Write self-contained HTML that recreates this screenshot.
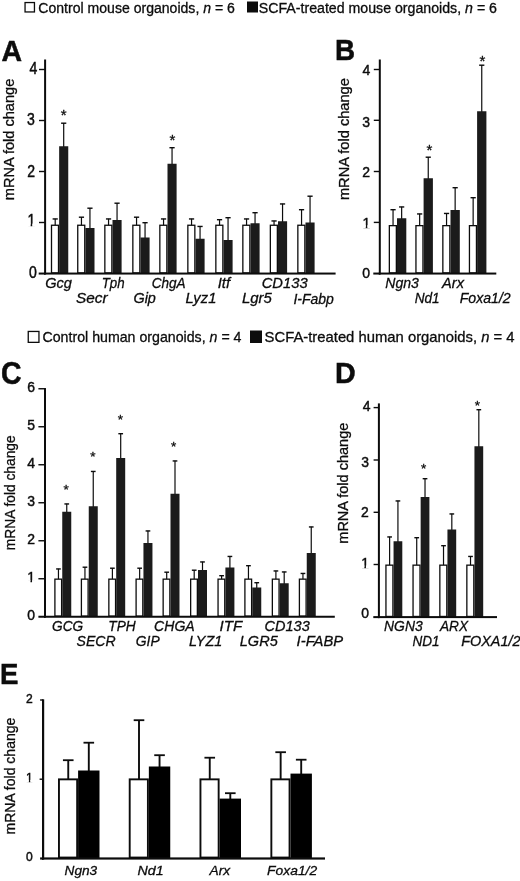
<!DOCTYPE html>
<html lang="en">
<head>
<meta charset="utf-8">
<title>SCFA organoid mRNA fold change</title>
<style>
html,body{margin:0;padding:0;background:#fff;}
body{width:520px;height:881px;overflow:hidden;}
svg{display:block;}
svg text{font-family:"Liberation Sans",sans-serif;fill:#0c0c0c;stroke:#0c0c0c;stroke-width:0.3px;}
</style>
</head>
<body>
<svg width="520" height="881" viewBox="0 0 520 881">
<rect x="0" y="0" width="520" height="881" fill="#fff"/>
<rect x="25.05" y="2.55" width="9.4" height="9.4" fill="#fff" stroke="#0c0c0c" stroke-width="1.3"/>
<text x="38.3" y="12.5" style="font-size:14px" textLength="196.6" lengthAdjust="spacingAndGlyphs">Control mouse organoids, <tspan style="font-style:italic">n</tspan> = 6</text>
<rect x="247" y="1.5" width="11" height="11" fill="#0c0c0c"/>
<text x="258.8" y="12.5" style="font-size:14px" textLength="238.2" lengthAdjust="spacingAndGlyphs">SCFA-treated mouse organoids, <tspan style="font-style:italic">n</tspan> = 6</text>
<rect x="28.25" y="331.45" width="10.7" height="10.9" fill="#fff" stroke="#0c0c0c" stroke-width="1.3"/>
<text x="42.5" y="342.3" style="font-size:14.8px" textLength="199" lengthAdjust="spacingAndGlyphs">Control human organoids, <tspan style="font-style:italic">n</tspan> = 4</text>
<rect x="250" y="330.5" width="12" height="12.5" fill="#0c0c0c"/>
<text x="264.6" y="342.3" style="font-size:14.8px" textLength="250" lengthAdjust="spacingAndGlyphs">SCFA-treated human organoids, <tspan style="font-style:italic">n</tspan> = 4</text>
<text transform="translate(1.5,60.8) scale(0.964,1)" x="0" y="0" style="font-size:29.5px;font-weight:bold;stroke-width:0.5px">A</text>
<text transform="translate(335.05,60.4) scale(0.934,1)" x="0" y="0" style="font-size:29.8px;font-weight:bold;stroke-width:0.5px">B</text>
<text transform="translate(0.9,384.2) scale(0.907,1)" x="0" y="0" style="font-size:31.4px;font-weight:bold;stroke-width:0.5px">C</text>
<text transform="translate(335.1,382.85) scale(0.942,1)" x="0" y="0" style="font-size:30.4px;font-weight:bold;stroke-width:0.5px">D</text>
<text transform="translate(0.05,683.7) scale(0.915,1)" x="0" y="0" style="font-size:30.2px;font-weight:bold;stroke-width:0.5px">E</text>
<line x1="55.2" y1="218.75" x2="55.2" y2="225.6" stroke="#0c0c0c" stroke-width="1.2"/>
<rect x="52.6" y="218.25" width="5.2" height="1.4" fill="#0c0c0c"/>
<line x1="63.7" y1="123" x2="63.7" y2="147.25" stroke="#0c0c0c" stroke-width="1.2"/>
<rect x="61.1" y="122.5" width="5.2" height="1.4" fill="#0c0c0c"/>
<rect x="51.5" y="225.25" width="7" height="47.65" fill="#fff" stroke="#0c0c0c" stroke-width="1.3"/>
<rect x="59.15" y="146.25" width="9.1" height="127.3" fill="#1b1b1b"/>
<line x1="81.45" y1="217" x2="81.45" y2="225.6" stroke="#0c0c0c" stroke-width="1.2"/>
<rect x="78.85" y="216.5" width="5.2" height="1.4" fill="#0c0c0c"/>
<line x1="89.95" y1="208" x2="89.95" y2="229" stroke="#0c0c0c" stroke-width="1.2"/>
<rect x="87.35" y="207.5" width="5.2" height="1.4" fill="#0c0c0c"/>
<rect x="77.75" y="225.25" width="7" height="47.65" fill="#fff" stroke="#0c0c0c" stroke-width="1.3"/>
<rect x="85.4" y="228" width="9.1" height="45.55" fill="#1b1b1b"/>
<line x1="108.55" y1="218.75" x2="108.55" y2="225.6" stroke="#0c0c0c" stroke-width="1.2"/>
<rect x="105.95" y="218.25" width="5.2" height="1.4" fill="#0c0c0c"/>
<line x1="117.05" y1="203" x2="117.05" y2="221" stroke="#0c0c0c" stroke-width="1.2"/>
<rect x="114.45" y="202.5" width="5.2" height="1.4" fill="#0c0c0c"/>
<rect x="104.85" y="225.25" width="7" height="47.65" fill="#fff" stroke="#0c0c0c" stroke-width="1.3"/>
<rect x="112.5" y="220" width="9.1" height="53.55" fill="#1b1b1b"/>
<line x1="136.55" y1="217" x2="136.55" y2="225.6" stroke="#0c0c0c" stroke-width="1.2"/>
<rect x="133.95" y="216.5" width="5.2" height="1.4" fill="#0c0c0c"/>
<line x1="145.05" y1="222.5" x2="145.05" y2="238.5" stroke="#0c0c0c" stroke-width="1.2"/>
<rect x="142.45" y="222" width="5.2" height="1.4" fill="#0c0c0c"/>
<rect x="132.85" y="225.25" width="7" height="47.65" fill="#fff" stroke="#0c0c0c" stroke-width="1.3"/>
<rect x="140.5" y="237.5" width="9.1" height="36.05" fill="#1b1b1b"/>
<line x1="163.55" y1="218.75" x2="163.55" y2="225.6" stroke="#0c0c0c" stroke-width="1.2"/>
<rect x="160.95" y="218.25" width="5.2" height="1.4" fill="#0c0c0c"/>
<line x1="172.05" y1="147.5" x2="172.05" y2="164.75" stroke="#0c0c0c" stroke-width="1.2"/>
<rect x="169.45" y="147" width="5.2" height="1.4" fill="#0c0c0c"/>
<rect x="159.85" y="225.25" width="7" height="47.65" fill="#fff" stroke="#0c0c0c" stroke-width="1.3"/>
<rect x="167.5" y="163.75" width="9.1" height="109.8" fill="#1b1b1b"/>
<line x1="191.55" y1="218.75" x2="191.55" y2="225.6" stroke="#0c0c0c" stroke-width="1.2"/>
<rect x="188.95" y="218.25" width="5.2" height="1.4" fill="#0c0c0c"/>
<line x1="200.05" y1="226.25" x2="200.05" y2="239.75" stroke="#0c0c0c" stroke-width="1.2"/>
<rect x="197.45" y="225.75" width="5.2" height="1.4" fill="#0c0c0c"/>
<rect x="187.85" y="225.25" width="7" height="47.65" fill="#fff" stroke="#0c0c0c" stroke-width="1.3"/>
<rect x="195.5" y="238.75" width="9.1" height="34.8" fill="#1b1b1b"/>
<line x1="219.55" y1="219.5" x2="219.55" y2="225.6" stroke="#0c0c0c" stroke-width="1.2"/>
<rect x="216.95" y="219" width="5.2" height="1.4" fill="#0c0c0c"/>
<line x1="228.05" y1="217.5" x2="228.05" y2="241" stroke="#0c0c0c" stroke-width="1.2"/>
<rect x="225.45" y="217" width="5.2" height="1.4" fill="#0c0c0c"/>
<rect x="215.85" y="225.25" width="7" height="47.65" fill="#fff" stroke="#0c0c0c" stroke-width="1.3"/>
<rect x="223.5" y="240" width="9.1" height="33.55" fill="#1b1b1b"/>
<line x1="246.55" y1="218.75" x2="246.55" y2="225.6" stroke="#0c0c0c" stroke-width="1.2"/>
<rect x="243.95" y="218.25" width="5.2" height="1.4" fill="#0c0c0c"/>
<line x1="255.05" y1="212.5" x2="255.05" y2="224.25" stroke="#0c0c0c" stroke-width="1.2"/>
<rect x="252.45" y="212" width="5.2" height="1.4" fill="#0c0c0c"/>
<rect x="242.85" y="225.25" width="7" height="47.65" fill="#fff" stroke="#0c0c0c" stroke-width="1.3"/>
<rect x="250.5" y="223.25" width="9.1" height="50.3" fill="#1b1b1b"/>
<line x1="274.05" y1="220.75" x2="274.05" y2="225.6" stroke="#0c0c0c" stroke-width="1.2"/>
<rect x="271.45" y="220.25" width="5.2" height="1.4" fill="#0c0c0c"/>
<line x1="282.55" y1="203.75" x2="282.55" y2="222.25" stroke="#0c0c0c" stroke-width="1.2"/>
<rect x="279.95" y="203.25" width="5.2" height="1.4" fill="#0c0c0c"/>
<rect x="270.35" y="225.25" width="7" height="47.65" fill="#fff" stroke="#0c0c0c" stroke-width="1.3"/>
<rect x="278" y="221.25" width="9.1" height="52.3" fill="#1b1b1b"/>
<line x1="301.55" y1="209.5" x2="301.55" y2="225.6" stroke="#0c0c0c" stroke-width="1.2"/>
<rect x="298.95" y="209" width="5.2" height="1.4" fill="#0c0c0c"/>
<line x1="310.05" y1="196" x2="310.05" y2="223.5" stroke="#0c0c0c" stroke-width="1.2"/>
<rect x="307.45" y="195.5" width="5.2" height="1.4" fill="#0c0c0c"/>
<rect x="297.85" y="225.25" width="7" height="47.65" fill="#fff" stroke="#0c0c0c" stroke-width="1.3"/>
<rect x="305.5" y="222.5" width="9.1" height="51.05" fill="#1b1b1b"/>
<rect x="44.1" y="59.5" width="2" height="215.05" fill="#0c0c0c"/>
<rect x="44.1" y="272.55" width="291.5" height="2" fill="#0c0c0c"/>
<rect x="39" y="68.8" width="6.1" height="1.4" fill="#0c0c0c"/>
<text transform="translate(37.3,73.61) scale(0.9,1)" text-anchor="end" style="font-size:15.6px;stroke-width:0.45px;">4</text>
<rect x="39" y="119.8" width="6.1" height="1.4" fill="#0c0c0c"/>
<text transform="translate(34.9,124.71) scale(0.9,1)" text-anchor="end" style="font-size:15.6px;stroke-width:0.45px;">3</text>
<rect x="39" y="170.8" width="6.1" height="1.4" fill="#0c0c0c"/>
<text transform="translate(35,176.71) scale(0.9,1)" text-anchor="end" style="font-size:15.6px;stroke-width:0.45px;">2</text>
<rect x="39" y="221.8" width="6.1" height="1.4" fill="#0c0c0c"/>
<text transform="translate(35.2,226.01) scale(0.9,1)" text-anchor="end" style="font-size:15.6px;stroke-width:0.45px;">1</text>
<rect x="26.99" y="223.67" width="3.65" height="3.14" fill="#fff"/>
<rect x="32.22" y="223.67" width="3.65" height="3.14" fill="#fff"/>
<rect x="38.7" y="272.55" width="6.4" height="2" fill="#0c0c0c"/>
<text transform="translate(36.9,278.06) scale(0.9,1)" text-anchor="end" style="font-size:15.6px;stroke-width:0.45px;">0</text>
<text transform="translate(14.2,139.5) rotate(-90)" text-anchor="middle" style="font-size:15px" textLength="121.5" lengthAdjust="spacingAndGlyphs">mRNA fold change</text>
<text x="63.75" y="119.88" text-anchor="middle" style="font-size:15px;">*</text>
<text x="172.3" y="145.38" text-anchor="middle" style="font-size:15px;">*</text>
<text x="58.52" y="287.7" text-anchor="middle" style="font-size:15px;font-style:italic;" textLength="26.65" lengthAdjust="spacingAndGlyphs">Gcg</text>
<text x="91.78" y="302.6" text-anchor="middle" style="font-size:15px;font-style:italic;" textLength="31.65" lengthAdjust="spacingAndGlyphs">Secr</text>
<text x="113.15" y="287.7" text-anchor="middle" style="font-size:15px;font-style:italic;" textLength="22.9" lengthAdjust="spacingAndGlyphs">Tph</text>
<text x="144.65" y="302.86" text-anchor="middle" style="font-size:15px;font-style:italic;" textLength="22.4" lengthAdjust="spacingAndGlyphs">Gip</text>
<text x="168.65" y="287.7" text-anchor="middle" style="font-size:15px;font-style:italic;" textLength="33.9" lengthAdjust="spacingAndGlyphs">ChgA</text>
<text x="200.9" y="303.1" text-anchor="middle" style="font-size:15px;font-style:italic;" textLength="30.9" lengthAdjust="spacingAndGlyphs">Lyz1</text>
<text x="223.9" y="287.7" text-anchor="middle" style="font-size:15px;font-style:italic;" textLength="12.4" lengthAdjust="spacingAndGlyphs">Itf</text>
<text x="256.95" y="303.36" text-anchor="middle" style="font-size:15px;font-style:italic;" textLength="29.9" lengthAdjust="spacingAndGlyphs">Lgr5</text>
<text x="284.65" y="287.7" text-anchor="middle" style="font-size:15px;font-style:italic;" textLength="45.9" lengthAdjust="spacingAndGlyphs">CD133</text>
<text x="313.65" y="303.6" text-anchor="middle" style="font-size:15px;font-style:italic;" textLength="40.4" lengthAdjust="spacingAndGlyphs">I-Fabp</text>
<line x1="393.05" y1="209.5" x2="393.05" y2="226" stroke="#0c0c0c" stroke-width="1.2"/>
<rect x="390.45" y="209" width="5.2" height="1.4" fill="#0c0c0c"/>
<line x1="401.65" y1="206.75" x2="401.65" y2="219.25" stroke="#0c0c0c" stroke-width="1.2"/>
<rect x="399.05" y="206.25" width="5.2" height="1.4" fill="#0c0c0c"/>
<rect x="389.35" y="225.65" width="7" height="47.25" fill="#fff" stroke="#0c0c0c" stroke-width="1.3"/>
<rect x="397" y="218.25" width="9.3" height="55.3" fill="#1b1b1b"/>
<line x1="419.65" y1="213.75" x2="419.65" y2="226" stroke="#0c0c0c" stroke-width="1.2"/>
<rect x="417.05" y="213.25" width="5.2" height="1.4" fill="#0c0c0c"/>
<line x1="428.25" y1="157" x2="428.25" y2="179.25" stroke="#0c0c0c" stroke-width="1.2"/>
<rect x="425.65" y="156.5" width="5.2" height="1.4" fill="#0c0c0c"/>
<rect x="415.95" y="225.65" width="7" height="47.25" fill="#fff" stroke="#0c0c0c" stroke-width="1.3"/>
<rect x="423.6" y="178.25" width="9.3" height="95.3" fill="#1b1b1b"/>
<line x1="446.55" y1="213.25" x2="446.55" y2="226" stroke="#0c0c0c" stroke-width="1.2"/>
<rect x="443.95" y="212.75" width="5.2" height="1.4" fill="#0c0c0c"/>
<line x1="455.15" y1="187.5" x2="455.15" y2="211" stroke="#0c0c0c" stroke-width="1.2"/>
<rect x="452.55" y="187" width="5.2" height="1.4" fill="#0c0c0c"/>
<rect x="442.85" y="225.65" width="7" height="47.25" fill="#fff" stroke="#0c0c0c" stroke-width="1.3"/>
<rect x="450.5" y="210" width="9.3" height="63.55" fill="#1b1b1b"/>
<line x1="473.15" y1="197.5" x2="473.15" y2="226" stroke="#0c0c0c" stroke-width="1.2"/>
<rect x="470.55" y="197" width="5.2" height="1.4" fill="#0c0c0c"/>
<line x1="481.75" y1="65" x2="481.75" y2="112.25" stroke="#0c0c0c" stroke-width="1.2"/>
<rect x="479.15" y="64.5" width="5.2" height="1.4" fill="#0c0c0c"/>
<rect x="469.45" y="225.65" width="7" height="47.25" fill="#fff" stroke="#0c0c0c" stroke-width="1.3"/>
<rect x="477.1" y="111.25" width="9.3" height="162.3" fill="#1b1b1b"/>
<rect x="378.8" y="59.5" width="2" height="215.05" fill="#0c0c0c"/>
<rect x="378.8" y="272.55" width="117.5" height="2" fill="#0c0c0c"/>
<rect x="373.8" y="68.8" width="6" height="1.4" fill="#0c0c0c"/>
<text transform="translate(370.2,74.61) scale(0.915,1)" text-anchor="end" style="font-size:15.3px;stroke-width:0.45px;">4</text>
<rect x="373.8" y="119.6" width="6" height="1.4" fill="#0c0c0c"/>
<text transform="translate(370.1,127.21) scale(0.915,1)" text-anchor="end" style="font-size:15.3px;stroke-width:0.45px;">3</text>
<rect x="373.8" y="170.8" width="6" height="1.4" fill="#0c0c0c"/>
<text transform="translate(370.1,177.11) scale(0.915,1)" text-anchor="end" style="font-size:15.3px;stroke-width:0.45px;">2</text>
<rect x="373.8" y="221.7" width="6" height="1.4" fill="#0c0c0c"/>
<text transform="translate(370.3,227.51) scale(0.915,1)" text-anchor="end" style="font-size:15.3px;stroke-width:0.45px;">1</text>
<rect x="362.11" y="225.21" width="3.64" height="3.09" fill="#fff"/>
<rect x="367.33" y="225.21" width="3.64" height="3.09" fill="#fff"/>
<rect x="373.3" y="272.55" width="6.5" height="2" fill="#0c0c0c"/>
<text transform="translate(370.1,278.16) scale(0.915,1)" text-anchor="end" style="font-size:15.3px;stroke-width:0.45px;">0</text>
<text transform="translate(349.3,139.1) rotate(-90)" text-anchor="middle" style="font-size:15px" textLength="122" lengthAdjust="spacingAndGlyphs">mRNA fold change</text>
<text x="429.5" y="154.88" text-anchor="middle" style="font-size:15px;">*</text>
<text x="482.5" y="65.88" text-anchor="middle" style="font-size:15px;">*</text>
<text x="402.1" y="287.7" text-anchor="middle" style="font-size:15px;font-style:italic;" textLength="33.6" lengthAdjust="spacingAndGlyphs">Ngn3</text>
<text x="427.2" y="303.2" text-anchor="middle" style="font-size:15px;font-style:italic;" textLength="25" lengthAdjust="spacingAndGlyphs">Nd1</text>
<text x="453.05" y="287.7" text-anchor="middle" style="font-size:15px;font-style:italic;" textLength="21.9" lengthAdjust="spacingAndGlyphs">Arx</text>
<text x="485.2" y="303.2" text-anchor="middle" style="font-size:15px;font-style:italic;" textLength="51" lengthAdjust="spacingAndGlyphs">Foxa1/2</text>
<line x1="58.45" y1="568.75" x2="58.45" y2="579.5" stroke="#0c0c0c" stroke-width="1.2"/>
<rect x="56.1" y="568.25" width="4.7" height="1.4" fill="#0c0c0c"/>
<line x1="66.75" y1="503.75" x2="66.75" y2="512.75" stroke="#0c0c0c" stroke-width="1.2"/>
<rect x="64.4" y="503.25" width="4.7" height="1.4" fill="#0c0c0c"/>
<rect x="54.9" y="579.15" width="6.7" height="36.95" fill="#fff" stroke="#0c0c0c" stroke-width="1.3"/>
<rect x="62.25" y="511.75" width="9" height="105" fill="#1b1b1b"/>
<line x1="84.95" y1="567" x2="84.95" y2="579.5" stroke="#0c0c0c" stroke-width="1.2"/>
<rect x="82.6" y="566.5" width="4.7" height="1.4" fill="#0c0c0c"/>
<line x1="93.25" y1="471.25" x2="93.25" y2="507.25" stroke="#0c0c0c" stroke-width="1.2"/>
<rect x="90.9" y="470.75" width="4.7" height="1.4" fill="#0c0c0c"/>
<rect x="81.4" y="579.15" width="6.7" height="36.95" fill="#fff" stroke="#0c0c0c" stroke-width="1.3"/>
<rect x="88.75" y="506.25" width="9" height="110.5" fill="#1b1b1b"/>
<line x1="112.4" y1="568" x2="112.4" y2="579.5" stroke="#0c0c0c" stroke-width="1.2"/>
<rect x="110.05" y="567.5" width="4.7" height="1.4" fill="#0c0c0c"/>
<line x1="120.7" y1="433.5" x2="120.7" y2="459" stroke="#0c0c0c" stroke-width="1.2"/>
<rect x="118.35" y="433" width="4.7" height="1.4" fill="#0c0c0c"/>
<rect x="108.85" y="579.15" width="6.7" height="36.95" fill="#fff" stroke="#0c0c0c" stroke-width="1.3"/>
<rect x="116.2" y="458" width="9" height="158.75" fill="#1b1b1b"/>
<line x1="139.65" y1="568" x2="139.65" y2="579.5" stroke="#0c0c0c" stroke-width="1.2"/>
<rect x="137.3" y="567.5" width="4.7" height="1.4" fill="#0c0c0c"/>
<line x1="147.95" y1="530.75" x2="147.95" y2="544" stroke="#0c0c0c" stroke-width="1.2"/>
<rect x="145.6" y="530.25" width="4.7" height="1.4" fill="#0c0c0c"/>
<rect x="136.1" y="579.15" width="6.7" height="36.95" fill="#fff" stroke="#0c0c0c" stroke-width="1.3"/>
<rect x="143.45" y="543" width="9" height="73.75" fill="#1b1b1b"/>
<line x1="166.7" y1="572" x2="166.7" y2="579.5" stroke="#0c0c0c" stroke-width="1.2"/>
<rect x="164.35" y="571.5" width="4.7" height="1.4" fill="#0c0c0c"/>
<line x1="175" y1="460.75" x2="175" y2="494.75" stroke="#0c0c0c" stroke-width="1.2"/>
<rect x="172.65" y="460.25" width="4.7" height="1.4" fill="#0c0c0c"/>
<rect x="163.15" y="579.15" width="6.7" height="36.95" fill="#fff" stroke="#0c0c0c" stroke-width="1.3"/>
<rect x="170.5" y="493.75" width="9" height="123" fill="#1b1b1b"/>
<line x1="194.2" y1="570" x2="194.2" y2="579.5" stroke="#0c0c0c" stroke-width="1.2"/>
<rect x="191.85" y="569.5" width="4.7" height="1.4" fill="#0c0c0c"/>
<line x1="202.5" y1="561.75" x2="202.5" y2="571" stroke="#0c0c0c" stroke-width="1.2"/>
<rect x="200.15" y="561.25" width="4.7" height="1.4" fill="#0c0c0c"/>
<rect x="190.65" y="579.15" width="6.7" height="36.95" fill="#fff" stroke="#0c0c0c" stroke-width="1.3"/>
<rect x="198" y="570" width="9" height="46.75" fill="#1b1b1b"/>
<line x1="221.6" y1="575.5" x2="221.6" y2="579.5" stroke="#0c0c0c" stroke-width="1.2"/>
<rect x="219.25" y="575" width="4.7" height="1.4" fill="#0c0c0c"/>
<line x1="229.9" y1="556.25" x2="229.9" y2="568.5" stroke="#0c0c0c" stroke-width="1.2"/>
<rect x="227.55" y="555.75" width="4.7" height="1.4" fill="#0c0c0c"/>
<rect x="218.05" y="579.15" width="6.7" height="36.95" fill="#fff" stroke="#0c0c0c" stroke-width="1.3"/>
<rect x="225.4" y="567.5" width="9" height="49.25" fill="#1b1b1b"/>
<line x1="248.45" y1="565.5" x2="248.45" y2="579.5" stroke="#0c0c0c" stroke-width="1.2"/>
<rect x="246.1" y="565" width="4.7" height="1.4" fill="#0c0c0c"/>
<line x1="256.75" y1="582.5" x2="256.75" y2="588.5" stroke="#0c0c0c" stroke-width="1.2"/>
<rect x="254.4" y="582" width="4.7" height="1.4" fill="#0c0c0c"/>
<rect x="244.9" y="579.15" width="6.7" height="36.95" fill="#fff" stroke="#0c0c0c" stroke-width="1.3"/>
<rect x="252.25" y="587.5" width="9" height="29.25" fill="#1b1b1b"/>
<line x1="275.9" y1="570.75" x2="275.9" y2="579.5" stroke="#0c0c0c" stroke-width="1.2"/>
<rect x="273.55" y="570.25" width="4.7" height="1.4" fill="#0c0c0c"/>
<line x1="284.2" y1="571.75" x2="284.2" y2="584.25" stroke="#0c0c0c" stroke-width="1.2"/>
<rect x="281.85" y="571.25" width="4.7" height="1.4" fill="#0c0c0c"/>
<rect x="272.35" y="579.15" width="6.7" height="36.95" fill="#fff" stroke="#0c0c0c" stroke-width="1.3"/>
<rect x="279.7" y="583.25" width="9" height="33.5" fill="#1b1b1b"/>
<line x1="302.95" y1="573.25" x2="302.95" y2="579.5" stroke="#0c0c0c" stroke-width="1.2"/>
<rect x="300.6" y="572.75" width="4.7" height="1.4" fill="#0c0c0c"/>
<line x1="311.25" y1="526.75" x2="311.25" y2="554" stroke="#0c0c0c" stroke-width="1.2"/>
<rect x="308.9" y="526.25" width="4.7" height="1.4" fill="#0c0c0c"/>
<rect x="299.4" y="579.15" width="6.7" height="36.95" fill="#fff" stroke="#0c0c0c" stroke-width="1.3"/>
<rect x="306.75" y="553" width="9" height="63.75" fill="#1b1b1b"/>
<rect x="44" y="388.05" width="2" height="229.7" fill="#0c0c0c"/>
<rect x="44" y="615.75" width="290.8" height="2" fill="#0c0c0c"/>
<rect x="38.4" y="388.05" width="6.6" height="1.4" fill="#0c0c0c"/>
<text transform="translate(35,392.4) scale(0.93,1)" text-anchor="end" style="font-size:15px;stroke-width:0.45px;">6</text>
<rect x="38.4" y="426.05" width="6.6" height="1.4" fill="#0c0c0c"/>
<text transform="translate(35,430.4) scale(0.93,1)" text-anchor="end" style="font-size:15px;stroke-width:0.45px;">5</text>
<rect x="38.4" y="464.05" width="6.6" height="1.4" fill="#0c0c0c"/>
<text transform="translate(35,468.4) scale(0.93,1)" text-anchor="end" style="font-size:15px;stroke-width:0.45px;">4</text>
<rect x="38.4" y="502.05" width="6.6" height="1.4" fill="#0c0c0c"/>
<text transform="translate(35,506.4) scale(0.93,1)" text-anchor="end" style="font-size:15px;stroke-width:0.45px;">3</text>
<rect x="38.4" y="540.05" width="6.6" height="1.4" fill="#0c0c0c"/>
<text transform="translate(35,544.4) scale(0.93,1)" text-anchor="end" style="font-size:15px;stroke-width:0.45px;">2</text>
<rect x="38.4" y="578.05" width="6.6" height="1.4" fill="#0c0c0c"/>
<text transform="translate(35,582.4) scale(0.93,1)" text-anchor="end" style="font-size:15px;stroke-width:0.45px;">1</text>
<rect x="26.84" y="580.15" width="3.63" height="3.05" fill="#fff"/>
<rect x="32.04" y="580.15" width="3.63" height="3.05" fill="#fff"/>
<rect x="38.4" y="615.75" width="6.6" height="2" fill="#0c0c0c"/>
<text transform="translate(35,620.4) scale(0.93,1)" text-anchor="end" style="font-size:15px;stroke-width:0.45px;">0</text>
<text transform="translate(14.6,492.75) rotate(-90)" text-anchor="middle" style="font-size:14.3px" textLength="114.8" lengthAdjust="spacingAndGlyphs">mRNA fold change</text>
<text x="66.25" y="494.37" text-anchor="middle" style="font-size:13.5px;">*</text>
<text x="93" y="461.37" text-anchor="middle" style="font-size:13.5px;">*</text>
<text x="120.3" y="424.37" text-anchor="middle" style="font-size:13.5px;">*</text>
<text x="173.75" y="451.37" text-anchor="middle" style="font-size:13.5px;">*</text>
<text x="67.65" y="630.9" text-anchor="middle" style="font-size:15px;font-style:italic;" textLength="31.1" lengthAdjust="spacingAndGlyphs">GCG</text>
<text x="96.15" y="645.7" text-anchor="middle" style="font-size:15px;font-style:italic;" textLength="39.1" lengthAdjust="spacingAndGlyphs">SECR</text>
<text x="122.03" y="630.9" text-anchor="middle" style="font-size:15px;font-style:italic;" textLength="27.35" lengthAdjust="spacingAndGlyphs">TPH</text>
<text x="147.78" y="645.7" text-anchor="middle" style="font-size:15px;font-style:italic;" textLength="23.85" lengthAdjust="spacingAndGlyphs">GIP</text>
<text x="174.4" y="630.9" text-anchor="middle" style="font-size:15px;font-style:italic;" textLength="40.6" lengthAdjust="spacingAndGlyphs">CHGA</text>
<text x="205.65" y="645.7" text-anchor="middle" style="font-size:15px;font-style:italic;" textLength="33.1" lengthAdjust="spacingAndGlyphs">LYZ1</text>
<text x="230.9" y="630.9" text-anchor="middle" style="font-size:15px;font-style:italic;" textLength="22.6" lengthAdjust="spacingAndGlyphs">ITF</text>
<text x="258.75" y="645.7" text-anchor="middle" style="font-size:15px;font-style:italic;" textLength="37.9" lengthAdjust="spacingAndGlyphs">LGR5</text>
<text x="287.15" y="630.9" text-anchor="middle" style="font-size:15px;font-style:italic;" textLength="45.1" lengthAdjust="spacingAndGlyphs">CD133</text>
<text x="319.9" y="645.7" text-anchor="middle" style="font-size:15px;font-style:italic;" textLength="46.6" lengthAdjust="spacingAndGlyphs">I-FABP</text>
<line x1="389.62" y1="536.75" x2="389.62" y2="565.5" stroke="#0c0c0c" stroke-width="1.2"/>
<rect x="387.27" y="536.25" width="4.7" height="1.4" fill="#0c0c0c"/>
<line x1="397.93" y1="500.75" x2="397.93" y2="542.25" stroke="#0c0c0c" stroke-width="1.2"/>
<rect x="395.57" y="500.25" width="4.7" height="1.4" fill="#0c0c0c"/>
<rect x="385.95" y="565.15" width="6.95" height="51.3" fill="#fff" stroke="#0c0c0c" stroke-width="1.3"/>
<rect x="393.55" y="541.25" width="8.75" height="75.85" fill="#1b1b1b"/>
<line x1="416.72" y1="537.5" x2="416.72" y2="565.5" stroke="#0c0c0c" stroke-width="1.2"/>
<rect x="414.37" y="537" width="4.7" height="1.4" fill="#0c0c0c"/>
<line x1="425.02" y1="478.5" x2="425.02" y2="498" stroke="#0c0c0c" stroke-width="1.2"/>
<rect x="422.67" y="478" width="4.7" height="1.4" fill="#0c0c0c"/>
<rect x="413.05" y="565.15" width="6.95" height="51.3" fill="#fff" stroke="#0c0c0c" stroke-width="1.3"/>
<rect x="420.65" y="497" width="8.75" height="120.1" fill="#1b1b1b"/>
<line x1="443.52" y1="545.5" x2="443.52" y2="565.5" stroke="#0c0c0c" stroke-width="1.2"/>
<rect x="441.17" y="545" width="4.7" height="1.4" fill="#0c0c0c"/>
<line x1="451.82" y1="513.75" x2="451.82" y2="530.5" stroke="#0c0c0c" stroke-width="1.2"/>
<rect x="449.47" y="513.25" width="4.7" height="1.4" fill="#0c0c0c"/>
<rect x="439.85" y="565.15" width="6.95" height="51.3" fill="#fff" stroke="#0c0c0c" stroke-width="1.3"/>
<rect x="447.45" y="529.5" width="8.75" height="87.6" fill="#1b1b1b"/>
<line x1="470.52" y1="556.25" x2="470.52" y2="565.5" stroke="#0c0c0c" stroke-width="1.2"/>
<rect x="468.17" y="555.75" width="4.7" height="1.4" fill="#0c0c0c"/>
<line x1="478.82" y1="409.5" x2="478.82" y2="447.25" stroke="#0c0c0c" stroke-width="1.2"/>
<rect x="476.47" y="409" width="4.7" height="1.4" fill="#0c0c0c"/>
<rect x="466.85" y="565.15" width="6.95" height="51.3" fill="#fff" stroke="#0c0c0c" stroke-width="1.3"/>
<rect x="474.45" y="446.25" width="8.75" height="170.85" fill="#1b1b1b"/>
<rect x="377.9" y="403.4" width="2" height="214.7" fill="#0c0c0c"/>
<rect x="377.9" y="616.1" width="119.1" height="2" fill="#0c0c0c"/>
<rect x="373.6" y="406.9" width="5.3" height="1.4" fill="#0c0c0c"/>
<text transform="translate(370.5,410.8) scale(0.93,1)" text-anchor="end" style="font-size:15px;stroke-width:0.45px;">4</text>
<rect x="373.6" y="459.3" width="5.3" height="1.4" fill="#0c0c0c"/>
<text transform="translate(369,466.5) scale(0.93,1)" text-anchor="end" style="font-size:15px;stroke-width:0.45px;">3</text>
<rect x="373.6" y="511.6" width="5.3" height="1.4" fill="#0c0c0c"/>
<text transform="translate(368.8,517.1) scale(0.93,1)" text-anchor="end" style="font-size:15px;stroke-width:0.45px;">2</text>
<rect x="373.6" y="563.8" width="5.3" height="1.4" fill="#0c0c0c"/>
<text transform="translate(368.9,567.7) scale(0.93,1)" text-anchor="end" style="font-size:15px;stroke-width:0.45px;">1</text>
<rect x="360.74" y="565.45" width="3.63" height="3.05" fill="#fff"/>
<rect x="365.94" y="565.45" width="3.63" height="3.05" fill="#fff"/>
<rect x="373.3" y="616.1" width="5.6" height="2" fill="#0c0c0c"/>
<text transform="translate(368.9,618.4) scale(0.93,1)" text-anchor="end" style="font-size:15px;stroke-width:0.45px;">0</text>
<text transform="translate(348,483.2) rotate(-90)" text-anchor="middle" style="font-size:15px" textLength="121" lengthAdjust="spacingAndGlyphs">mRNA fold change</text>
<text x="423.75" y="472.82" text-anchor="middle" style="font-size:13.5px;">*</text>
<text x="477.5" y="409.57" text-anchor="middle" style="font-size:13.5px;">*</text>
<text x="403.4" y="630.6" text-anchor="middle" style="font-size:15px;font-style:italic;" textLength="38.6" lengthAdjust="spacingAndGlyphs">NGN3</text>
<text x="425.95" y="645.9" text-anchor="middle" style="font-size:15px;font-style:italic;" textLength="27.1" lengthAdjust="spacingAndGlyphs">ND1</text>
<text x="453.95" y="630.6" text-anchor="middle" style="font-size:15px;font-style:italic;" textLength="28.1" lengthAdjust="spacingAndGlyphs">ARX</text>
<text transform="translate(461.2,645.9) scale(0.962,1)" text-anchor="start" style="font-size:15px;font-style:italic;">FOXA1/2</text>
<line x1="68.25" y1="760" x2="68.25" y2="779.4" stroke="#0c0c0c" stroke-width="1.9"/>
<rect x="62.95" y="759.3" width="10.6" height="1.8" fill="#0c0c0c"/>
<line x1="88.8" y1="742.5" x2="88.8" y2="771.5" stroke="#0c0c0c" stroke-width="1.9"/>
<rect x="83.5" y="741.8" width="10.6" height="1.8" fill="#0c0c0c"/>
<rect x="58.95" y="779.35" width="18.2" height="78.2" fill="#fff" stroke="#0c0c0c" stroke-width="1.9"/>
<rect x="78.1" y="770.5" width="21.4" height="88" fill="#000"/>
<line x1="139" y1="720" x2="139" y2="779.4" stroke="#0c0c0c" stroke-width="1.9"/>
<rect x="133.7" y="719.3" width="10.6" height="1.8" fill="#0c0c0c"/>
<line x1="159.55" y1="755" x2="159.55" y2="767.5" stroke="#0c0c0c" stroke-width="1.9"/>
<rect x="154.25" y="754.3" width="10.6" height="1.8" fill="#0c0c0c"/>
<rect x="129.7" y="779.35" width="18.2" height="78.2" fill="#fff" stroke="#0c0c0c" stroke-width="1.9"/>
<rect x="148.85" y="766.5" width="21.4" height="92" fill="#000"/>
<line x1="209.75" y1="757.5" x2="209.75" y2="779.4" stroke="#0c0c0c" stroke-width="1.9"/>
<rect x="204.45" y="756.8" width="10.6" height="1.8" fill="#0c0c0c"/>
<line x1="230.3" y1="793" x2="230.3" y2="799.6" stroke="#0c0c0c" stroke-width="1.9"/>
<rect x="225" y="792.3" width="10.6" height="1.8" fill="#0c0c0c"/>
<rect x="200.45" y="779.35" width="18.2" height="78.2" fill="#fff" stroke="#0c0c0c" stroke-width="1.9"/>
<rect x="219.6" y="798.6" width="21.4" height="59.9" fill="#000"/>
<line x1="280.65" y1="752" x2="280.65" y2="779.4" stroke="#0c0c0c" stroke-width="1.9"/>
<rect x="275.35" y="751.3" width="10.6" height="1.8" fill="#0c0c0c"/>
<line x1="301.2" y1="759.5" x2="301.2" y2="774.6" stroke="#0c0c0c" stroke-width="1.9"/>
<rect x="295.9" y="758.8" width="10.6" height="1.8" fill="#0c0c0c"/>
<rect x="271.35" y="779.35" width="18.2" height="78.2" fill="#fff" stroke="#0c0c0c" stroke-width="1.9"/>
<rect x="290.5" y="773.6" width="21.4" height="84.9" fill="#000"/>
<rect x="42" y="699.3" width="2.2" height="160.3" fill="#0c0c0c"/>
<rect x="42" y="857.4" width="283" height="2.2" fill="#0c0c0c"/>
<rect x="40.1" y="699.3" width="3" height="1.4" fill="#0c0c0c"/>
<text transform="translate(32.8,702.66) scale(0.93,1)" text-anchor="end" style="font-size:13px;stroke-width:0.45px;">2</text>
<rect x="39.6" y="778.5" width="3.5" height="1.4" fill="#0c0c0c"/>
<text transform="translate(32.8,781.86) scale(0.93,1)" text-anchor="end" style="font-size:13px;stroke-width:0.45px;">1</text>
<rect x="25.73" y="779.91" width="3.14" height="2.75" fill="#fff"/>
<rect x="30.24" y="779.91" width="3.14" height="2.75" fill="#fff"/>
<rect x="40.1" y="857.4" width="3" height="2.2" fill="#0c0c0c"/>
<text transform="translate(32.8,861.16) scale(0.93,1)" text-anchor="end" style="font-size:13px;stroke-width:0.45px;">0</text>
<text transform="translate(14.9,776.1) rotate(-90)" text-anchor="middle" style="font-size:14px" textLength="116.8" lengthAdjust="spacingAndGlyphs">mRNA fold change</text>
<text x="80.9" y="874.8" text-anchor="middle" style="font-size:13.4px;font-style:italic;" textLength="32.6" lengthAdjust="spacingAndGlyphs">Ngn3</text>
<text x="150.65" y="874.8" text-anchor="middle" style="font-size:13.4px;font-style:italic;" textLength="26.1" lengthAdjust="spacingAndGlyphs">Nd1</text>
<text x="219.9" y="874.8" text-anchor="middle" style="font-size:13.4px;font-style:italic;" textLength="20.6" lengthAdjust="spacingAndGlyphs">Arx</text>
<text x="292.15" y="874.8" text-anchor="middle" style="font-size:13.4px;font-style:italic;" textLength="50.1" lengthAdjust="spacingAndGlyphs">Foxa1/2</text>
</svg>
</body>
</html>
